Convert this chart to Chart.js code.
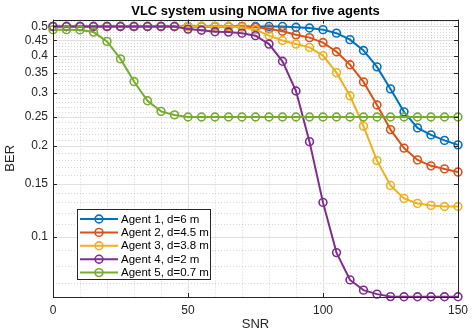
<!DOCTYPE html>
<html>
<head>
<meta charset="utf-8">
<script src="https://cdn.jsdelivr.net/npm/chart.js@4.4.1/dist/chart.umd.min.js"></script>
<style>
  html, body { margin: 0; padding: 0; background: #ffffff; }
  canvas { display: block; }
</style>
</head>
<body>
<canvas id="c" width="474" height="335"></canvas>
<script>
// ---------------- DATA ----------------
const snr = [0, 5, 10, 15, 20, 25, 30, 35, 40, 45, 50, 55, 60, 65, 70, 75, 80, 85, 90, 95, 100, 105, 110, 115, 120, 125, 130, 135, 140, 145, 150];

const agent1 = [0.5, 0.5, 0.5, 0.5, 0.5, 0.5, 0.5, 0.5, 0.5, 0.5, 0.5, 0.5, 0.5, 0.5, 0.5, 0.5, 0.5, 0.5,
  0.497, 0.494, 0.488, 0.475, 0.452, 0.416, 0.367, 0.31, 0.26, 0.23, 0.218, 0.209, 0.202];
const agent2 = [0.5, 0.5, 0.5, 0.5, 0.5, 0.5, 0.5, 0.5, 0.5, 0.5, 0.5, 0.5, 0.5, 0.5, 0.5,
  0.497, 0.491, 0.482, 0.469, 0.459, 0.442, 0.412, 0.373, 0.327, 0.274, 0.227, 0.197, 0.18, 0.172, 0.168, 0.164];
const agent3 = [0.5, 0.5, 0.5, 0.5, 0.5, 0.5, 0.5, 0.5, 0.5, 0.5, 0.5, 0.5, 0.5, 0.5,
  0.497, 0.488, 0.466, 0.449, 0.437, 0.426, 0.4, 0.351, 0.294, 0.233, 0.179, 0.148, 0.134, 0.129, 0.127, 0.126, 0.126];
const agent4 = [0.5, 0.5, 0.5, 0.5, 0.5, 0.5, 0.5, 0.5, 0.5, 0.5,
  0.49, 0.486, 0.48, 0.479, 0.475, 0.466, 0.437, 0.383, 0.305, 0.207, 0.13, 0.0885, 0.0718, 0.0664, 0.0644, 0.0632,
  0.0631, 0.0631, 0.0631, 0.0631, 0.0631];
const agent5 = [0.488, 0.488, 0.487, 0.479, 0.446, 0.39, 0.328, 0.283, 0.261, 0.254,
  0.25, 0.25, 0.25, 0.25, 0.25, 0.25, 0.25, 0.25, 0.25, 0.25, 0.25, 0.25, 0.25, 0.25, 0.25, 0.25, 0.25, 0.25, 0.25, 0.25, 0.25];

const seriesLabels = ["Agent 1, d=6 m", "Agent 2, d=4.5 m", "Agent 3, d=3.8 m", "Agent 4, d=2 m", "Agent 5, d=0.7 m"];

const xTicks = [0, 50, 100, 150];
const xMinorGrid = [10, 20, 30, 40, 60, 70, 80, 90, 110, 120, 130, 140];
const yTicks = [0.1, 0.15, 0.2, 0.25, 0.3, 0.35, 0.4, 0.45, 0.5];
const yTickLabels = ["0.1", "0.15", "0.2", "0.25", "0.3", "0.35", "0.4", "0.45", "0.5"];
const yMinorGrid = [0.07, 0.08, 0.09, 0.11, 0.12, 0.13, 0.14, 0.16, 0.17, 0.18, 0.19,
  0.21, 0.22, 0.23, 0.24, 0.26, 0.27, 0.28, 0.29, 0.31, 0.32, 0.33, 0.34,
  0.36, 0.37, 0.38, 0.39, 0.41, 0.42, 0.43, 0.44, 0.46, 0.47, 0.48, 0.49, 0.51, 0.52];

// ---------------- STYLE ----------------
const colors = ["#0072BD", "#D95319", "#EDB120", "#7E2F8E", "#77AC30"];
const FONT = "'Liberation Sans', Arial, Helvetica, sans-serif";

const allSeries = [agent1, agent2, agent3, agent4, agent5];
const datasets = allSeries.map((vals, i) => ({
  label: seriesLabels[i],
  data: snr.map((x, j) => ({ x: x, y: vals[j] })),
  borderColor: colors[i],
  backgroundColor: colors[i],
  pointBackgroundColor: "rgba(255,255,255,0)",
  pointBorderColor: colors[i],
  pointRadius: 3.9,
  pointBorderWidth: 1.6,
  borderWidth: 2,
  tension: 0,
  clip: false,
  order: 4 - i
}));

const gridPlugin = {
  id: "matlabGrid",
  beforeDatasetsDraw(chart) {
    const ctx = chart.ctx;
    const a = chart.chartArea;
    const xs = chart.scales.x, ys = chart.scales.y;
    ctx.save();
    ctx.strokeStyle = "rgba(0,0,0,0.16)";
    ctx.lineWidth = 1;
    ctx.setLineDash([1, 2]);
    xMinorGrid.forEach(v => {
      const p = Math.round(xs.getPixelForValue(v)) + 0.5;
      ctx.beginPath(); ctx.moveTo(p, a.top); ctx.lineTo(p, a.bottom); ctx.stroke();
    });
    yMinorGrid.forEach(v => {
      const p = Math.round(ys.getPixelForValue(v)) + 0.5;
      if (p < a.top || p > a.bottom) return;
      ctx.beginPath(); ctx.moveTo(a.left, p); ctx.lineTo(a.right, p); ctx.stroke();
    });
    ctx.setLineDash([]);
    ctx.strokeStyle = "#e1e1e1";
    xTicks.forEach(v => {
      const p = Math.round(xs.getPixelForValue(v)) + 0.5;
      ctx.beginPath(); ctx.moveTo(p, a.top); ctx.lineTo(p, a.bottom); ctx.stroke();
    });
    yTicks.forEach(v => {
      const p = Math.round(ys.getPixelForValue(v)) + 0.5;
      ctx.beginPath(); ctx.moveTo(a.left, p); ctx.lineTo(a.right, p); ctx.stroke();
    });
    ctx.restore();
  },
  afterDatasetsDraw(chart) {
    const ctx = chart.ctx;
    const a = chart.chartArea;
    const xs = chart.scales.x, ys = chart.scales.y;
    ctx.save();
    ctx.strokeStyle = "#262626";
    ctx.lineWidth = 1;
    ctx.strokeRect(Math.round(a.left) + 0.5, Math.round(a.top) + 0.5,
      Math.round(a.right - a.left), Math.round(a.bottom - a.top));
    ctx.beginPath();
    yTicks.forEach(v => {
      const p = Math.round(ys.getPixelForValue(v)) + 0.5;
      ctx.moveTo(a.left, p); ctx.lineTo(a.left + 4, p);
      ctx.moveTo(a.right, p); ctx.lineTo(a.right - 4, p);
    });
    xTicks.forEach(v => {
      const p = Math.round(xs.getPixelForValue(v)) + 0.5;
      ctx.moveTo(p, a.bottom); ctx.lineTo(p, a.bottom - 4);
      ctx.moveTo(p, a.top); ctx.lineTo(p, a.top + 4);
    });
    ctx.stroke();

    const lx = a.left + 24, ly = 209, lw = 133, lh = 70;
    ctx.fillStyle = "#ffffff";
    ctx.fillRect(lx, ly, lw, lh);
    ctx.strokeStyle = "#262626";
    ctx.strokeRect(lx + 0.5, ly + 0.5, lw, lh);
    ctx.font = "11.5px " + FONT;
    ctx.textBaseline = "middle";
    ctx.textAlign = "left";
    chart.data.datasets.forEach((ds, i) => {
      const cy = ly + 10 + i * 13.4;
      ctx.strokeStyle = ds.borderColor;
      ctx.lineWidth = 2;
      ctx.beginPath(); ctx.moveTo(lx + 3, cy); ctx.lineTo(lx + 41, cy); ctx.stroke();
      ctx.lineWidth = 1.6;
      ctx.beginPath(); ctx.arc(lx + 22, cy, 3.9, 0, Math.PI * 2); ctx.stroke();
      ctx.fillStyle = "#000000";
      ctx.fillText(ds.label, lx + 44, cy + 0.5);
    });
    ctx.restore();
  }
};

new Chart(document.getElementById("c"), {
  type: "line",
  data: { datasets: datasets },
  plugins: [gridPlugin],
  options: {
    responsive: false,
    animation: false,
    layout: { padding: { left: 0, right: 13, top: 0, bottom: 0 } },
    plugins: {
      legend: { display: false },
      tooltip: { enabled: false },
      title: {
        display: true,
        text: "VLC system using NOMA for five agents",
        fullSize: false,
        color: "#000000",
        font: { family: FONT, size: 13, weight: "bold" },
        padding: { top: 4, bottom: 0 }
      }
    },
    scales: {
      x: {
        type: "linear",
        min: 0, max: 150,
        grid: { display: false, drawTicks: false },
        border: { display: false },
        afterBuildTicks: (scale) => { scale.ticks = xTicks.map(v => ({ value: v })); },
        afterFit: (scale) => { scale.height = 38; },
        ticks: {
          color: "#262626",
          font: { family: FONT, size: 12 },
          padding: 6,
          maxRotation: 0,
          autoSkip: false,
          callback: (v) => String(v)
        },
        title: {
          display: true,
          text: "SNR",
          color: "#262626",
          font: { family: FONT, size: 13 },
          padding: { top: 0, bottom: 3 }
        }
      },
      y: {
        type: "logarithmic",
        min: 0.063, max: 0.527,
        grid: { display: false, drawTicks: false },
        border: { display: false },
        afterBuildTicks: (scale) => { scale.ticks = yTicks.map(v => ({ value: v })); },
        afterFit: (scale) => { scale.width = 53; },
        ticks: {
          color: "#262626",
          font: { family: FONT, size: 12 },
          padding: 5,
          autoSkip: false,
          callback: (v) => { const k = yTicks.indexOf(v); return k >= 0 ? yTickLabels[k] : ""; }
        },
        title: {
          display: true,
          text: "BER",
          color: "#262626",
          font: { family: FONT, size: 13 },
          padding: { top: 3, bottom: 0 }
        }
      }
    }
  }
});
</script>
</body>
</html>
